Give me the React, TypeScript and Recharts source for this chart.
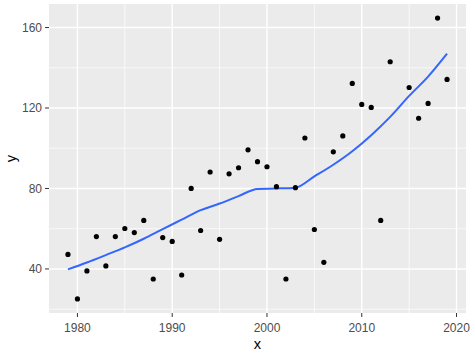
import React from 'react';
import { ComposedChart, Scatter, Line, XAxis, YAxis, CartesianGrid } from 'recharts';

const years = [1979, 1980, 1981, 1982, 1983, 1984, 1985, 1986, 1987, 1988, 1989, 1990, 1991, 1992, 1993, 1994, 1995, 1996, 1997, 1998, 1999, 2000, 2001, 2002, 2003, 2004, 2005, 2006, 2007, 2008, 2009, 2010, 2011, 2012, 2013, 2015, 2016, 2017, 2018, 2019];
const values = [47.2, 25.1, 39.0, 56.1, 41.5, 56.1, 60.1, 58.1, 64.1, 35.0, 55.6, 53.7, 37.0, 80.0, 59.1, 88.2, 54.7, 87.3, 90.3, 99.2, 93.3, 90.8, 80.9, 35.0, 80.4, 105.1, 59.6, 43.3, 98.2, 106.1, 132.2, 121.8, 120.3, 64.1, 143.0, 130.2, 114.9, 122.3, 164.7, 134.2];

const smoothYears = [1979, 1981, 1983, 1985, 1987, 1989, 1991, 1993, 1995, 1997, 1999, 2001, 2003, 2005, 2007, 2009, 2011, 2013, 2015, 2017, 2019];
const smoothValues = [39.8, 43.2, 46.9, 50.7, 55.0, 59.8, 64.5, 69.2, 72.5, 76.2, 79.8, 80.0, 80.4, 86.0, 91.8, 98.5, 106.5, 115.6, 126.0, 135.6, 147.0];

const xMajor = [1980, 1990, 2000, 2010, 2020];
const xMinor = [1985, 1995, 2005, 2015];
const yMajor = [40, 80, 120, 160];
const yMinor = [20, 60, 100, 140];

const points = years.map((x, i) => ({ x, y: values[i] }));
const smooth = smoothYears.map((x, i) => ({ x, y: smoothValues[i] }));

const FONT = '"Liberation Sans", Arial, sans-serif';

const Dot = (props: any) => <circle cx={props.cx} cy={props.cy} r={2.6} fill="#000000" />;

export default function App() {
  return (
    <div style={{ position: 'absolute', left: 0, top: 0, width: 474, height: 353, background: '#FFFFFF' }}>
      <ComposedChart width={474} height={353} margin={{ top: 4, right: 8, bottom: 0, left: 0 }} style={{ fontFamily: FONT }}>
        <CartesianGrid fill="#EBEBEB" stroke="#FFFFFF" strokeWidth={0.7} horizontalValues={yMinor} verticalValues={xMinor} />
        <CartesianGrid stroke="#FFFFFF" strokeWidth={1.4} horizontalValues={yMajor} verticalValues={xMajor} />
        <XAxis
          type="number"
          dataKey="x"
          domain={[1977, 2021]}
          allowDataOverflow
          ticks={xMajor}
          height={40}
          axisLine={false}
          tickSize={4}
          tickMargin={6}
          tickLine={{ stroke: '#333333', strokeWidth: 1 }}
          tick={{ fill: '#4D4D4D', fontSize: 12, fontFamily: FONT }}
          label={{
            content: (p: any) => {
              const vb = p.viewBox || {};
              return (
                <text x={vb.x + vb.width / 2} y={vb.y + vb.height - 4} textAnchor="middle" fill="#000000" fontSize={14.67} fontFamily={FONT}>
                  x
                </text>
              );
            },
          }}
        />
        <YAxis
          type="number"
          dataKey="y"
          domain={[18.1, 171.7]}
          allowDataOverflow
          ticks={yMajor}
          width={49}
          axisLine={false}
          tickSize={4}
          tickMargin={3}
          tickLine={{ stroke: '#333333', strokeWidth: 1 }}
          tick={{ fill: '#4D4D4D', fontSize: 12, fontFamily: FONT }}
          label={{
            content: (p: any) => {
              const vb = p.viewBox || {};
              const cx = 16;
              const cy = vb.y + vb.height / 2;
              return (
                <text x={cx} y={cy} transform={`rotate(-90 ${cx} ${cy})`} textAnchor="middle" fill="#000000" fontSize={14.67} fontFamily={FONT}>
                  y
                </text>
              );
            },
          }}
        />
        <Scatter data={points} dataKey="y" shape={Dot} isAnimationActive={false} />
        <Line data={smooth} dataKey="y" type="monotone" stroke="#3366FF" strokeWidth={2} dot={false} activeDot={false} isAnimationActive={false} />
      </ComposedChart>
    </div>
  );
}
